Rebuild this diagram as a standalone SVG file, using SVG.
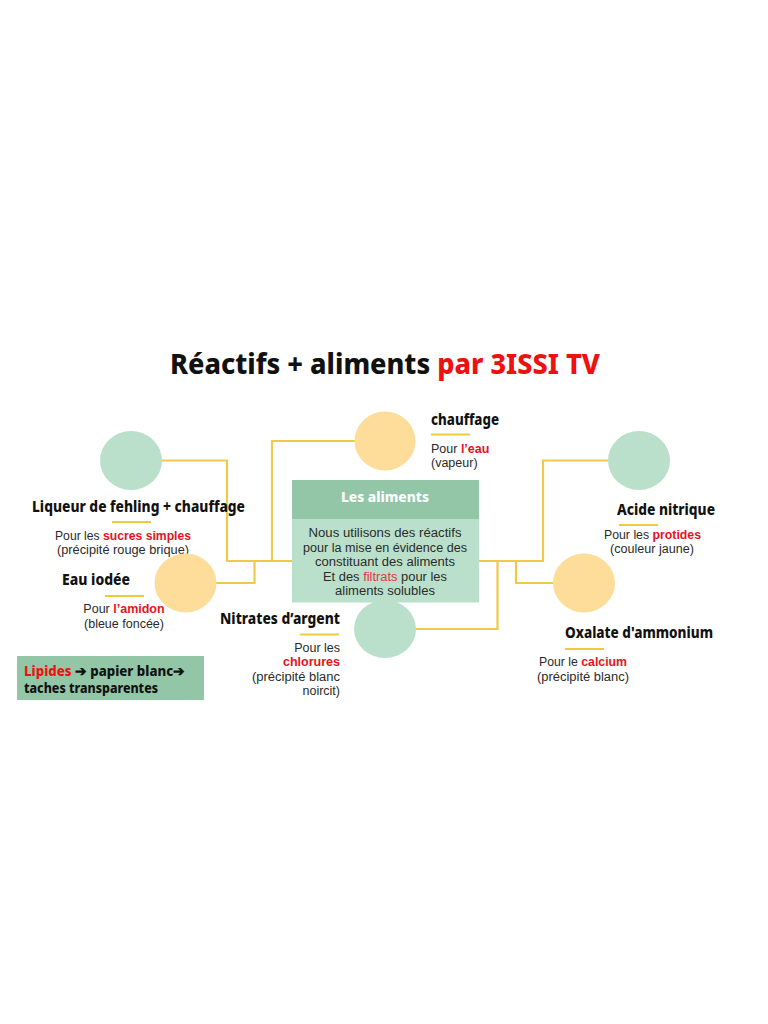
<svg xmlns="http://www.w3.org/2000/svg" width="768" height="1024" viewBox="0 0 768 1024">
<style>
.h{font-family:"Noto Sans","Open Sans","Liberation Sans",sans-serif;font-weight:800;fill:#111}
.t{font-family:"Liberation Sans",Arial,sans-serif;font-size:12.5px;fill:#2a2a2a}
.r{fill:#e8111d;font-weight:700}
.g{fill:#bae0cb}.y{fill:#fedd9b}
.c{fill:none;stroke:#f0c94a;stroke-width:2.2}
.u{stroke:#f0c93c;stroke-width:2}
</style>
<rect width="768" height="1024" fill="#fff"/>
<g id="title"><text class="h" x="170" y="374" font-size="28" textLength="430" lengthAdjust="spacingAndGlyphs">Réactifs + aliments <tspan fill="#ee1111">par 3ISSI TV</tspan></text></g>
<g id="connectors">
<path class="c" d="M162 460.500H227V561H292"/>
<path class="c" d="M355 441H272V561"/>
<path class="c" d="M216 583H254.500V561"/>
<path class="c" d="M479 561H543V460.500H608"/>
<path class="c" d="M516 561V583H553"/>
<path class="c" d="M497.500 561V629H415"/>
</g>
<g id="node-fehling">
<ellipse class="g" cx="131" cy="460.500" rx="31" ry="29.500"/>
<text class="h" x="32" y="512" font-size="15" textLength="213" lengthAdjust="spacingAndGlyphs">Liqueur de fehling + chauffage</text>
<line class="u" x1="112" y1="522" x2="151" y2="522"/>
<text class="t" x="55" y="540" textLength="136" lengthAdjust="spacingAndGlyphs">Pour les <tspan class="r">sucres simples</tspan></text>
<text class="t" x="57" y="554" textLength="132" lengthAdjust="spacingAndGlyphs">(précipité rouge brique)</text>
</g>
<g id="node-eau-iodee">
<ellipse class="y" cx="185.500" cy="583" rx="31" ry="29.500"/>
<text class="h" x="62" y="585" font-size="15" textLength="68" lengthAdjust="spacingAndGlyphs">Eau iodée</text>
<line class="u" x1="105" y1="596" x2="144" y2="596"/>
<text class="t" x="124" y="613" text-anchor="middle">Pour <tspan class="r">l’amidon</tspan></text>
<text class="t" x="124" y="628" text-anchor="middle">(bleue foncée)</text>
</g>
<g id="node-chauffage">
<ellipse class="y" cx="385" cy="441" rx="30.500" ry="29.500"/>
<text class="h" x="431" y="425" font-size="15" textLength="68" lengthAdjust="spacingAndGlyphs">chauffage</text>
<line class="u" x1="431" y1="434.500" x2="470" y2="434.500"/>
<text class="t" x="431" y="453">Pour <tspan class="r">l’eau</tspan></text>
<text class="t" x="431" y="467">(vapeur)</text>
</g>
<g id="node-nitrates">
<ellipse class="g" cx="385" cy="629" rx="31" ry="29"/>
<text class="h" x="220" y="624" font-size="15" textLength="120" lengthAdjust="spacingAndGlyphs">Nitrates d’argent</text>
<line class="u" x1="300" y1="634.500" x2="339" y2="634.500"/>
<text class="t" x="340" y="652" text-anchor="end">Pour les</text>
<text class="t r" x="340" y="666" text-anchor="end">chlorures</text>
<text class="t" x="252" y="681" textLength="88" lengthAdjust="spacingAndGlyphs">(précipité blanc</text>
<text class="t" x="340" y="695" text-anchor="end">noircit)</text>
</g>
<g id="node-center">
<rect x="292" y="480" width="187" height="39" fill="#93c6a6"/>
<rect x="292" y="519" width="187" height="83.500" fill="#bae0cb"/>
<text class="h" x="341" y="502" font-size="14.500" style="fill:#fff" textLength="88" lengthAdjust="spacingAndGlyphs">Les aliments</text>
<g>
<text class="t" x="308.500" y="537" textLength="153" lengthAdjust="spacingAndGlyphs">Nous utilisons des réactifs</text>
<text class="t" x="303" y="552" textLength="164" lengthAdjust="spacingAndGlyphs">pour la mise en évidence des</text>
<text class="t" x="315" y="566" textLength="140" lengthAdjust="spacingAndGlyphs">constituant des aliments</text>
<text class="t" x="323" y="581" textLength="124" lengthAdjust="spacingAndGlyphs">Et des <tspan fill="#e8343a">filtrats</tspan> pour les</text>
<text class="t" x="335" y="595" textLength="100" lengthAdjust="spacingAndGlyphs">aliments solubles</text>
</g>
</g>
<g id="node-acide">
<ellipse class="g" cx="639" cy="460.500" rx="31" ry="29.500"/>
<text class="h" x="617" y="515" font-size="15" textLength="98" lengthAdjust="spacingAndGlyphs">Acide nitrique</text>
<line class="u" x1="619" y1="525" x2="658" y2="525"/>
<text class="t" x="604" y="539" textLength="97" lengthAdjust="spacingAndGlyphs">Pour les <tspan class="r">protides</tspan></text>
<text class="t" x="610" y="553" textLength="84" lengthAdjust="spacingAndGlyphs">(couleur jaune)</text>
</g>
<g id="node-oxalate">
<ellipse class="y" cx="584" cy="583" rx="31" ry="29.500"/>
<text class="h" x="565" y="638" font-size="15" textLength="148" lengthAdjust="spacingAndGlyphs">Oxalate d'ammonium</text>
<line class="u" x1="565" y1="649" x2="604" y2="649"/>
<text class="t" x="539" y="666" textLength="88" lengthAdjust="spacingAndGlyphs">Pour le <tspan class="r">calcium</tspan></text>
<text class="t" x="537" y="681" textLength="92" lengthAdjust="spacingAndGlyphs">(précipité blanc)</text>
</g>
<g id="node-lipides">
<rect x="17" y="656" width="187" height="44" fill="#93c6a6"/>
<text class="h" x="24" y="676" font-size="13.500" textLength="161" lengthAdjust="spacingAndGlyphs"><tspan fill="#ee1111">Lipides</tspan> ➔ papier blanc➔</text>
<text class="h" x="24" y="693" font-size="13.500" textLength="134" lengthAdjust="spacingAndGlyphs">taches transparentes</text>
</g>
</svg>
